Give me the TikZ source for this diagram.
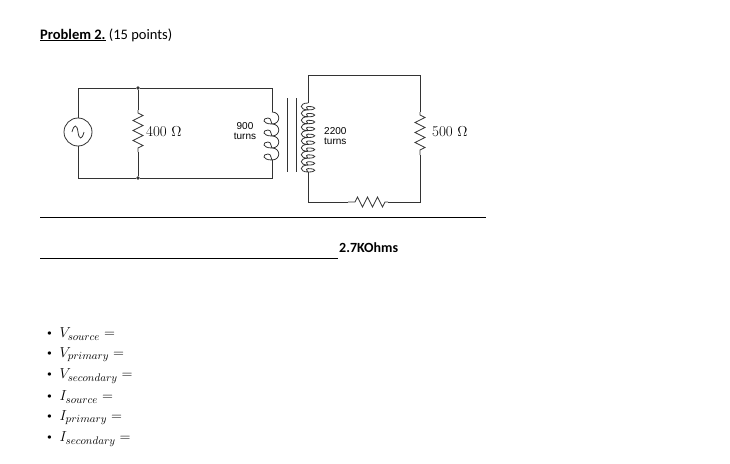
\documentclass[tikz,border=0pt]{standalone}
\usepackage{fontspec}
\newfontfamily\calfnt{Carlito}
\newfontfamily\helfnt{Liberation Sans}
\usetikzlibrary{decorations.pathmorphing}
\begin{document}
\begin{tikzpicture}[x=1pt,y=-1pt,
  w/.style={line width=0.8pt,black!80},
  res/.style={w,decorate,decoration={zigzag,segment length=10pt,amplitude=5pt,pre length=3pt,post length=3pt}},
  lbl/.style={font=\helfnt\fontsize{10}{10}\selectfont,align=center,inner sep=0pt},
  dot/.style={circle,fill=black!80,inner sep=1.3pt},
  item/.style={anchor=west,inner sep=0pt,font=\fontsize{15}{15}\selectfont}]
\useasboundingbox (0,0) rectangle (730,463);
\node[anchor=west,inner sep=0pt,font=\calfnt\fontsize{14.5}{14.5}\selectfont] (title) at (40,35) {\textbf{\underline{Problem 2.}} (15 points)};
% primary
\coordinate (tl) at (78,88); \coordinate (bl) at (78,178);
\coordinate (tr) at (272,88); \coordinate (br) at (272,178);
\node[dot] (d1) at (138,88) {}; \node[dot] (d2) at (138,178) {};
\node[circle,draw,w,minimum size=28pt,inner sep=0pt] (src) at (78,132) {};
\draw[w] (72,132) .. controls (74,124) and (77,124) .. (78,132) .. controls (79,140) and (82,140) .. (84,132);
\draw[w] (src) -- (tl) -- (d1) -- (tr) -- (272,112);
\draw[w] (src) -- (bl) -- (d2) -- (br) -- (272,160);
\coordinate (r1a) at (138,110); \coordinate (r1b) at (138,152);
\draw[w] (d1) -- (r1a); \draw[res] (r1a) -- (r1b); \draw[w] (r1b) -- (d2);
\node[anchor=west,inner sep=0pt,font=\fontsize{15}{15}\selectfont] (l400) at (146,132) {400 $\Omega$};
\draw[w] (272,112) \foreach \i in {0,...,3} { .. controls (281,112+\i*12) and (281,112+\i*12+12) .. (272,112+\i*12+12) .. controls (262,112+\i*12+12) and (262,112+\i*12+6) .. (268,112+\i*12+6) .. controls (270,112+\i*12+6) .. (272,112+\i*12+12)};
\node[lbl] (t900) at (245,131) {900\\turns};
% core
\draw[w] (287,98) -- (287,172); \draw[w] (296,98) -- (296,172);
% secondary
\draw[w] (308,103) -- (308,75) -- (420,75) -- (420,112);
\draw[res] (420,112) -- (420,155);
\draw[w] (420,155) -- (420,202) -- (388,202);
\draw[res] (388,202) -- (348,202);
\draw[w] (348,202) -- (308,202) -- (308,172);
\draw[w] (308,103) \foreach \i in {0,...,9} { .. controls (299,103+\i*6.9) and (299,103+\i*6.9+6.9) .. (308,103+\i*6.9+6.9) .. controls (317,103+\i*6.9+6.9) and (317,103+\i*6.9+3.5) .. (308,103+\i*6.9+3.5) .. controls (306,103+\i*6.9+4) .. (308,103+\i*6.9+6.9) };
\node[lbl,align=left,anchor=west] (t2200) at (324,136) {2200\\turns};
\node[anchor=west,inner sep=0pt,font=\fontsize{15}{15}\selectfont] (l500) at (432,132) {500 $\Omega$};
% answer lines
\draw[black] (40,217) -- (486,217);
\draw[black] (40,258) -- (338,258);
\node[anchor=base west,inner sep=0pt,font=\calfnt\bfseries\fontsize{14}{14}\selectfont] (ans) at (339,252) {2.7KOhms};
% bullets
\foreach \t [count=\i] in {V_{source},V_{primary},V_{secondary},I_{source},I_{primary},I_{secondary}} {
  \node[item] (b\i) at (44,334+\i*21-21) {\textbullet\ $\t=$};
}
\end{tikzpicture}
\end{document}
